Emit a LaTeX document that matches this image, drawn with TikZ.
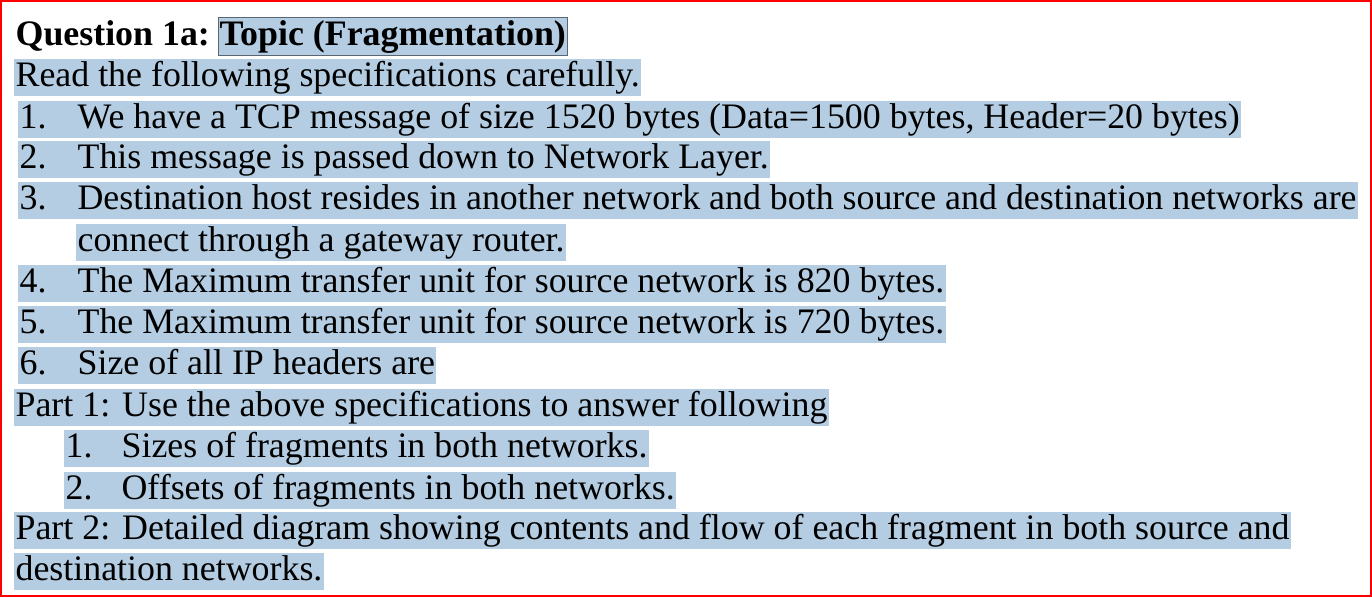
\documentclass[tikz,border=0pt]{standalone}
\usepackage{fontspec}
\setmainfont{Liberation Serif}
\begin{document}
\begin{tikzpicture}[x=0.75pt,y=-0.75pt,
  hl/.style={fill=hlc,anchor=base west,inner xsep=1pt,inner ysep=0pt,text height=20.5pt,text depth=7.5pt,font=\fontsize{26.9}{30}\selectfont},
  pl/.style={hl,fill=none}]
\definecolor{hlc}{HTML}{B4CDE2}
\useasboundingbox (0,0) rectangle (1372,597);
\draw[red,line width=1pt] (1,1) rectangle (1371,596);
\node[pl,font=\fontsize{26.9}{30}\selectfont\bfseries] (q) at (14,45) {Question 1a:};
\node[hl,font=\fontsize{26.9}{30}\selectfont\bfseries,draw=hlc!50!black,line width=0.3pt] (t) at (218,45) {Topic (Fragmentation)};
\node[hl] (r) at (14,86) {Read the following specifications carefully.};
\node[hl] (a1) at (18,128) {\makebox[43.5pt][l]{1.}We have a TCP message of size 1520 bytes (Data=1500 bytes, Header=20 bytes)};
\node[hl] (a2) at (18,168) {\makebox[43.5pt][l]{2.}This message is passed down to Network Layer.};
\node[hl] (a3) at (18,209) {\makebox[43.5pt][l]{3.}Destination host resides in another network and both source and destination networks are};
\node[hl] (a3b) at (76,251) {connect through a gateway router.};
\node[hl] (a4) at (18,292) {\makebox[43.5pt][l]{4.}The Maximum transfer unit for source network is 820 bytes.};
\node[hl] (a5) at (18,333) {\makebox[43.5pt][l]{5.}The Maximum transfer unit for source network is 720 bytes.};
\node[hl] (a6) at (18,374) {\makebox[43.5pt][l]{6.}Size of all IP headers are};
\node[hl] (p1) at (14,416) {Part 1: Use the above specifications to answer following};
\node[hl] (b1) at (64,457) {\makebox[42pt][l]{1.}Sizes of fragments in both networks.};
\node[hl] (b2) at (64,499) {\makebox[42pt][l]{2.}Offsets of fragments in both networks.};
\node[hl] (p2) at (14,539) {Part 2: Detailed diagram showing contents and flow of each fragment in both source and};
\node[hl] (p2b) at (14,580) {destination networks.};
\end{tikzpicture}
\end{document}
